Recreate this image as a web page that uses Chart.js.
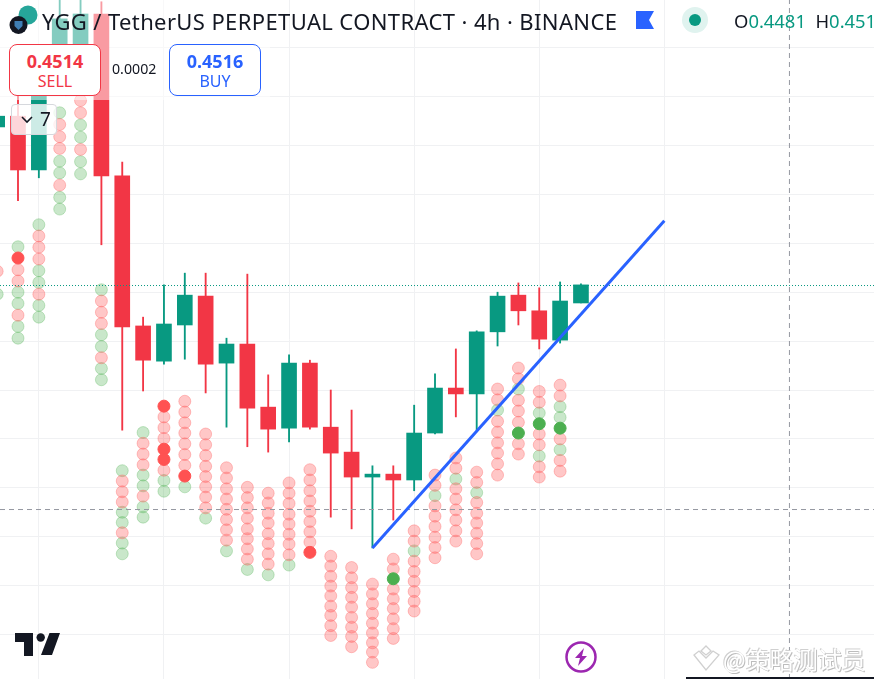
<!DOCTYPE html>
<html>
<head>
<meta charset="utf-8">
<title>YGG / TetherUS</title>
<script src="https://cdn.jsdelivr.net/npm/chart.js@4"></script>
<style>
    html, body { margin: 0; padding: 0; background: #fff; overflow: hidden; }
    #wrap { position: relative; width: 874px; height: 679px; overflow: hidden; font-family: "Noto Sans", sans-serif; color: #131722; }
    #chart { position: absolute; left: 0; top: 0; }
    #wrap > div, #wrap > svg { position: absolute; }
    #veil { left: 0; top: 0; width: 270px; height: 100px; background: rgba(255,255,255,.5); }
    #title { left: 42px; top: 6px; font-size: 22px; letter-spacing: .38px; line-height: 30px; white-space: nowrap; }
    #ohlc { left: 734px; top: 8px; font-size: 18.4px; line-height: 26px; white-space: nowrap; }
    #ohlc i { font-style: normal; color: #089981; }
    .btn { top: 44px; width: 90px; height: 50px; background: #fff; border: 1px solid; border-radius: 8px; text-align: center; }
    .btn b { display: block; font-size: 18px; line-height: 22px; margin-top: 5px; font-weight: 700; }
    .btn span { display: block; font-size: 16px; line-height: 19px; }
    #sell { left: 9px; color: #f23645; border-color: #f23645; }
    #buy { left: 169px; color: #2962ff; border-color: #2962ff; }
    #spread { left: 112px; top: 59px; font-size: 14.2px; line-height: 20px; }
    #qty { left: 11px; top: 104px; width: 44px; height: 29px; background: rgba(255,255,255,.8); border: 1px solid #d6d8dd; border-radius: 4px; }
    #qty span { position: absolute; left: 28px; top: 2px; font-size: 19px; line-height: 25px; }
    #mark { left: 693px; top: 644px; font-family: "Noto Sans CJK SC", sans-serif; font-size: 24px; line-height: 30px; padding-left: 30px; color: #fff; white-space: nowrap;
        text-shadow: -1px -1px 0 #d0d0d0, 1px 1px 0 #bdbdbd; }
    #strip { left: 686px; top: 677px; width: 188px; height: 2px; background: #131722; }
</style>
</head>
<body>
<div id="wrap">
    <canvas id="chart" width="874" height="679"></canvas>
    <div id="veil"></div>
    <svg style="left:8px;top:4px" width="32" height="32" viewBox="0 0 32 32">
        <circle cx="20" cy="11" r="9.5" fill="#26a69a"/>
        <circle cx="10.5" cy="21" r="9" fill="#131722"/>
        <path d="M6.5 17h8v5l-4 4-4-4z" fill="#3f7fb5"/>
    </svg>
    <div id="title">YGG / TetherUS PERPETUAL CONTRACT · 4h · BINANCE</div>
    <svg style="left:636px;top:11px" width="18" height="18" viewBox="0 0 18 18">
        <path d="M0 0H18L13 9L18 18H0Z" fill="#2962ff"/>
    </svg>
    <svg style="left:682px;top:7px" width="26" height="26" viewBox="0 0 26 26">
        <circle cx="13" cy="13" r="13" fill="#e0f3ef"/>
        <circle cx="13" cy="13" r="6" fill="#089981"/>
    </svg>
    <div id="ohlc">O<i>0.4481</i> &nbsp;H<i>0.451</i></div>
    <div class="btn" id="sell"><b>0.4514</b><span>SELL</span></div>
    <div id="spread">0.0002</div>
    <div class="btn" id="buy"><b>0.4516</b><span>BUY</span></div>
    <div id="qty">
        <svg style="position:absolute;left:8px;top:10px" width="14" height="9" viewBox="0 0 14 9">
            <path d="M2 2L7 7L12 2" fill="none" stroke="#131722" stroke-width="1.6"/>
        </svg>
        <span>7</span>
    </div>
    <svg style="left:14px;top:633px" width="47" height="24" viewBox="0 0 47 24">
        <path d="M1 0H19V23H10V9H1Z M35.5 0H46L38 22H27Z" fill="#131722"/>
        <circle cx="26.7" cy="4.5" r="4.2" fill="#131722"/>
    </svg>
    <svg style="left:565px;top:641px" width="32" height="32" viewBox="0 0 32 32">
        <circle cx="16" cy="16" r="14.5" fill="none" stroke="#9c27b0" stroke-width="2.5"/>
        <path d="M19 7L10 17H15L13 25L22 15H17Z" fill="#9c27b0"/>
    </svg>
    <div id="mark">@策略测试员</div>
    <svg style="left:693px;top:645px" width="28" height="27" viewBox="0 0 28 27">
        <path d="M13 1L18 6L13 10L8 6Z M1 10L6 6L13 13L20 6L26 10L13 25Z" fill="none" stroke="#d0d0d0" stroke-width="1.3"/>
    </svg>
    <div id="strip"></div>
</div>
<script>
// candles, one entry per bar
const candleX = [-1, 0, 1, 2, 3, 4, 5, 6, 7, 8, 9, 10, 11, 12, 13, 14, 15, 16, 17, 18, 19, 20, 21, 22, 23, 24, 25, 26, 27];
const opens = [.4838, .4860, .4750, .4975, .4995, .5069, .4738, .4431, .4359, .4433, .4492, .4355, .4394, .4265, .4222, .4355, .4224, .4173, .4122, .4128, .4116, .4212, .4304, .4292, .4419, .4494, .4462, .4402, .4478];
const highs = [.4860, .4934, .4975, .5100, .5100, .5094, .4766, .4449, .4515, .4539, .4539, .4406, .4537, .4331, .4372, .4361, .4300, .4259, .4145, .4145, .4269, .4333, .4384, .4421, .4500, .4519, .4509, .4521, .4517];
const lows = [.4838, .4687, .4734, .4954, .4975, .4597, .4218, .4298, .4353, .4363, .4294, .4224, .4184, .4173, .4194, .4220, .4040, .4016, .3977, .4034, .4094, .4210, .4245, .4218, .4390, .4433, .4384, .4396, .4478];
const closes = [.4860, .4750, .4934, .5059, .5069, .4738, .4429, .4361, .4435, .4494, .4353, .4394, .4263, .4220, .4355, .4224, .4171, .4122, .4128, .4116, .4212, .4304, .4292, .4419, .4492, .4462, .4404, .4482, .4515];

// dot columns: r/g pale, R/G solid, top to bottom
const dotX = [-1, 0, 1, 2, 3, 4, 5, 6, 7, 8, 9, 10, 11, 12, 13, 14, 15, 16, 17, 18, 19, 20, 21, 22, 23, 24, 25, 26];
const dotKinds = [
    'ggrrggrgg', 'gRrrggrgg', 'grrrggrgg', 'grrrggrgg', 'rrggrgg', 'grrrggrgg', 'grrrggrgg',
    'grrrggrgg', 'RrrrRRrgg', 'rrrrrrrRg', 'rrrrrrrrg', 'rrrrrrrrg', 'rrrrrrrrg', 'rrrrrrrrg',
    'rrrrrrrrg', 'rrrrrrrrR', 'rrrrrrrrr', 'rrrrrrrrr', 'rrrrrrrrr', 'rrGrrrrrr', 'rrgrrrrrr',
    'rrgrrrrrr', 'rrgrrrrrr', 'rrgrrrrrr', 'rrgrrrrrr', 'rrgrrrGrr', 'rrgGrrgrr', 'rrggGrgrr'
];
const dotPrices = [
    [.4687, .4663, .4640, .4615, .4590, .4568, .4543, .4521, .4496],
    [.4593, .4570, .4546, .4523, .4500, .4477, .4453, .4430, .4406],
    [.4638, .4615, .4592, .4568, .4544, .4520, .4496, .4473, .4449],
    [.4867, .4843, .4818, .4794, .4768, .4744, .4719, .4694, .4670],
    [.4892, .4867, .4842, .4817, .4792, .4767, .4742],
    [.4505, .4482, .4459, .4436, .4413, .4389, .4366, .4344, .4321],
    [.4135, .4114, .4092, .4071, .4050, .4029, .4008, .3987, .3965],
    [.4213, .4191, .4169, .4147, .4126, .4104, .4083, .4061, .4040],
    [.4267, .4245, .4223, .4201, .4179, .4158, .4136, .4115, .4093],
    [.4277, .4255, .4233, .4212, .4190, .4168, .4146, .4124, .4102],
    [.4210, .4188, .4166, .4144, .4123, .4102, .4081, .4059, .4038],
    [.4141, .4120, .4098, .4077, .4056, .4035, .4014, .3993, .3971],
    [.4101, .4080, .4059, .4038, .4016, .3996, .3975, .3954, .3933],
    [.4089, .4069, .4048, .4028, .4006, .3986, .3965, .3944, .3922],
    [.4110, .4089, .4068, .4046, .4026, .4005, .3985, .3963, .3942],
    [.4137, .4116, .4094, .4073, .4052, .4031, .4010, .3989, .3968],
    [.3960, .3940, .3919, .3899, .3879, .3858, .3839, .3818, .3798],
    [.3937, .3916, .3896, .3876, .3856, .3835, .3815, .3796, .3775],
    [.3903, .3883, .3863, .3843, .3823, .3803, .3783, .3764, .3743],
    [.3954, .3934, .3914, .3893, .3873, .3853, .3832, .3812, .3792],
    [.4012, .3991, .3971, .3950, .3929, .3909, .3888, .3868, .3848],
    [.4126, .4105, .4084, .4063, .4042, .4021, .3999, .3978, .3957],
    [.4161, .4140, .4118, .4098, .4077, .4055, .4034, .4012, .3991],
    [.4132, .4111, .4090, .4070, .4048, .4028, .4007, .3986, .3965],
    [.4302, .4280, .4259, .4236, .4214, .4192, .4171, .4149, .4126],
    [.4345, .4323, .4302, .4279, .4257, .4234, .4212, .4190, .4169],
    [.4297, .4275, .4253, .4231, .4210, .4188, .4165, .4143, .4122],
    [.4310, .4288, .4266, .4244, .4222, .4200, .4178, .4156, .4134]
];

// drawings and axis setup
const trendX = [17, 31];
const trendY = [.3977, .4646];
const lastPrice = .45137;
const crossPrice = .40556;
const crossCandle = 37;
const gridCandles = [1, 7, 13, 19, 25, 31];
const xRange = [-0.8633, 41.055];
const yRange = [.3709, .50976];

const UP = '#089981';
const DOWN = '#f23645';
const candleColors = opens.map((o, i) => closes[i] >= o ? UP : DOWN);

const dotStyles = {
    r: 'rgba(255,82,82,.32)',
    g: 'rgba(76,175,80,.3)',
    R: '#ff5252',
    G: '#4caf50'
};

function dotsOfKind(kind) {
    const pts = [];
    dotX.forEach((x, c) => {
        dotPrices[c].forEach((y, i) => {
            if (dotKinds[c][i] === kind) pts.push({ x, y });
        });
    });
    return pts;
}

function dotDataset(kind) {
    return {
        type: 'line',
        data: dotsOfKind(kind),
        showLine: false,
        pointRadius: 6,
        pointBorderWidth: 1,
        pointBackgroundColor: dotStyles[kind],
        pointBorderColor: dotStyles[kind]
    };
}

function lineDataset(points, color, width, dash) {
    return {
        type: 'line',
        data: points,
        borderColor: color,
        borderWidth: width,
        borderDash: dash,
        pointRadius: 0,
        tension: 0
    };
}

new Chart(document.getElementById('chart'), {
    type: 'bar',
    data: {
        datasets: [
            lineDataset(trendX.map((x, i) => ({ x, y: trendY[i] })), '#2962ff', 3, []),
            lineDataset([{ x: xRange[0], y: crossPrice }, { x: xRange[1], y: crossPrice }], '#9598a1', 1, [5, 4]),
            lineDataset([{ x: crossCandle, y: yRange[0] }, { x: crossCandle, y: yRange[1] }], '#9598a1', 1, [5, 4]),
            lineDataset([{ x: xRange[0], y: lastPrice }, { x: xRange[1], y: lastPrice }], UP, 1, [1, 2]),
            dotDataset('R'),
            dotDataset('G'),
            dotDataset('r'),
            dotDataset('g'),
            {
                data: candleX.map((x, i) => ({ x, y: [opens[i], closes[i]] })),
                backgroundColor: candleColors,
                barThickness: 15,
                grouped: false
            },
            {
                data: candleX.map((x, i) => ({ x, y: [lows[i], highs[i]] })),
                backgroundColor: candleColors,
                barThickness: 1.2,
                grouped: false
            }
        ]
    },
    options: {
        responsive: false,
        animation: false,
        events: [],
        layout: { padding: 0, autoPadding: false },
        plugins: {
            legend: { display: false },
            tooltip: { enabled: false }
        },
        scales: {
            x: {
                type: 'linear',
                offset: false,
                min: xRange[0],
                max: xRange[1],
                afterBuildTicks: scale => { scale.ticks = gridCandles.map(value => ({ value })); },
                ticks: { display: false },
                border: { display: false },
                grid: { color: '#f0f1f3', drawTicks: false, offset: false }
            },
            y: {
                min: yRange[0],
                max: yRange[1],
                ticks: { display: false, stepSize: 0.01, includeBounds: false },
                border: { display: false },
                grid: { color: '#f0f1f3', drawTicks: false }
            }
        }
    }
});
</script>
</body>
</html>
